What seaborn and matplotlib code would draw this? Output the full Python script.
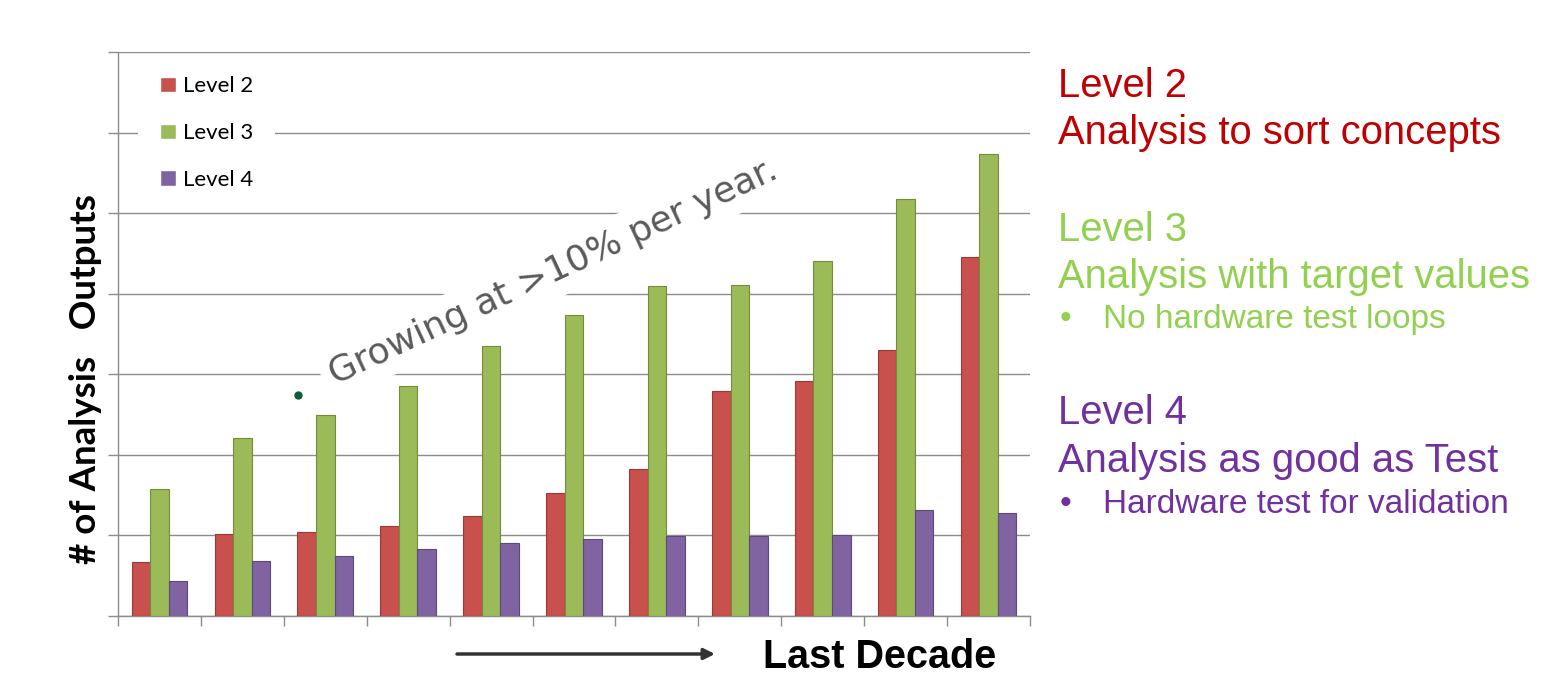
import matplotlib

matplotlib.use("Agg")

import matplotlib.pyplot as plt
import numpy as np
import pandas as pd
import seaborn as sns

# values, in gridline units (7 gridlines above the baseline)
PERIODS = [f"P{i}" for i in range(1, 12)]
LEVELS = ["Level 2", "Level 3", "Level 4"]
LEVEL_2 = [0.67, 1.02, 1.04, 1.12, 1.24, 1.53, 1.82, 2.79, 2.92, 3.30, 4.45]
LEVEL_3 = [1.58, 2.21, 2.50, 2.85, 3.35, 3.73, 4.10, 4.11, 4.40, 5.17, 5.74]
LEVEL_4 = [0.43, 0.68, 0.75, 0.83, 0.91, 0.96, 0.99, 0.99, 1.01, 1.32, 1.28]

BAR_COLORS = ["#c8504d", "#9bbb59", "#8064a2"]
EDGE_COLORS = ["#9a3a38", "#728c3c", "#5e4880"]

SIDE_NOTES = [
    # (text, x_px, baseline_px, size, color)
    ("Level 2", 1058, 97, 28.8, "#c00000"),
    ("Analysis to sort concepts", 1058, 144, 28.8, "#c00000"),
    ("Level 3", 1058, 241, 28.8, "#92d050"),
    ("Analysis with target values", 1058, 288, 28.8, "#92d050"),
    ("•", 1060, 328, 24, "#92d050"),
    ("No hardware test loops", 1103, 328, 24, "#92d050"),
    ("Level 4", 1058, 424, 28.8, "#7030a0"),
    ("Analysis as good as Test", 1058, 472, 28.8, "#7030a0"),
    ("•", 1060, 513, 24, "#7030a0"),
    ("Hardware test for validation", 1103, 513, 24, "#7030a0"),
]

FIG_W, FIG_H = 1542, 691


def build_frame() -> pd.DataFrame:
    rows = []
    for level, values in zip(LEVELS, [LEVEL_2, LEVEL_3, LEVEL_4]):
        for period, value in zip(PERIODS, values):
            rows.append({"period": period, "level": level, "outputs": value})
    return pd.DataFrame(rows)


def main() -> None:
    sns.set_theme(style="white")
    plt.rcParams["font.family"] = ["Liberation Sans", "DejaVu Sans"]

    fig = plt.figure(figsize=(FIG_W / 100, FIG_H / 100), dpi=100)
    ax = fig.add_axes([118 / FIG_W, 1 - 616 / FIG_H, 912 / FIG_W, 564 / FIG_H])

    data = build_frame()
    sns.barplot(
        data=data,
        x="period",
        y="outputs",
        hue="level",
        order=PERIODS,
        hue_order=LEVELS,
        palette=BAR_COLORS,
        width=0.67,
        gap=0,
        saturation=1,
        errorbar=None,
        ax=ax,
        zorder=3,
    )
    for container, edge in zip(ax.containers, EDGE_COLORS):
        for bar in container:
            bar.set_edgecolor(edge)
            bar.set_linewidth(0.8)

    ax.set_xlim(-0.5, len(PERIODS) - 0.5)
    ax.set_ylim(0, 7)
    ax.set_xticks(np.arange(-0.5, len(PERIODS), 1))
    ax.set_xticklabels([])
    ax.set_yticks(np.arange(0, 8, 1))
    ax.set_yticklabels([])
    ax.set_xlabel("")
    ax.set_ylabel("")
    ax.tick_params(axis="both", direction="out", length=7, width=1, color="#8c8c8c", bottom=True, left=True)
    ax.yaxis.grid(True, color="#8c8c8c", linewidth=1, zorder=1)
    ax.set_axisbelow(True)
    for side in ["top", "right"]:
        ax.spines[side].set_visible(False)
    for side in ["left", "bottom"]:
        ax.spines[side].set_color("#8c8c8c")
        ax.spines[side].set_linewidth(1)

    legend = ax.legend(
        loc="upper left",
        bbox_to_anchor=(0.022, 0.996),
        frameon=True,
        facecolor="white",
        edgecolor="none",
        framealpha=1,
        handlelength=0.7,
        handleheight=0.7,
        handletextpad=0.3,
        labelspacing=1.2,
        borderpad=1.0,
        borderaxespad=0,
        prop={"family": ["Lato", "DejaVu Sans"], "size": 16},
    )
    for text in legend.get_texts():
        text.set_color("#000000")

    # growth annotation, with its white box cutting the gridlines
    ax.plot([1.67], [2.74], "o", color="#0f5a3a", markersize=5, zorder=4)
    ax.text(
        2.12,
        2.87,
        "Growing at >10% per year.",
        rotation=25,
        rotation_mode="anchor",
        ha="left",
        va="baseline",
        fontsize=26,
        color="#5a5a5a",
        family=["DejaVu Sans"],
        bbox=dict(boxstyle="square,pad=0.25", facecolor="white", edgecolor="none"),
        zorder=2,
    )

    fig.text(
        86 / FIG_W,
        1 - 379 / FIG_H,
        "# of Analysis   Outputs",
        rotation=90,
        ha="center",
        va="center",
        fontsize=26.5,
        fontweight="bold",
        family=["Lato", "DejaVu Sans"],
        color="black",
    )
    fig.text(
        880 / FIG_W,
        1 - 668 / FIG_H,
        "Last Decade",
        ha="center",
        va="baseline",
        fontsize=28.5,
        fontweight="bold",
        color="black",
    )
    ax.annotate(
        "",
        xy=(715 / FIG_W, 1 - 654 / FIG_H),
        xytext=(457 / FIG_W, 1 - 654 / FIG_H),
        xycoords="figure fraction",
        textcoords="figure fraction",
        arrowprops=dict(arrowstyle="-|>", color="#333333", lw=2.5, mutation_scale=16, shrinkA=0, shrinkB=0),
        annotation_clip=False,
    )

    for text, x_px, y_px, size, color in SIDE_NOTES:
        fig.text(x_px / FIG_W, 1 - y_px / FIG_H, text, ha="left", va="baseline", fontsize=size, color=color)

    fig.savefig("out.png", dpi=100)
    plt.close(fig)


if __name__ == "__main__":
    main()
